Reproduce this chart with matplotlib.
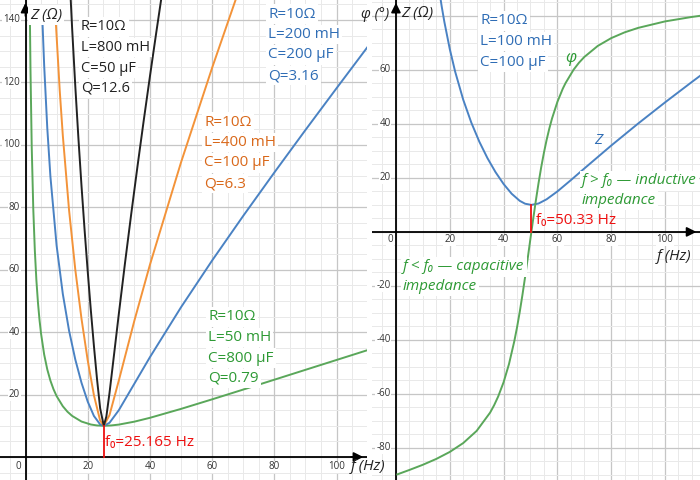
import numpy as np
import matplotlib.pyplot as plt

plt.rcParams['font.family'] = ['Open Sans', 'DejaVu Sans']

# ---- left panel: |Z| of four series RLC circuits, f0 = 25.165 Hz ----
f_green = [1.42, 1.6, 2, 2.5, 3, 3.5, 4, 4.5, 5, 6, 7, 8, 9, 10, 12, 13.5, 15,
           18, 21, 23, 25.165, 27.5, 30, 35, 40, 50, 60, 70, 80, 90, 100, 110]
z_green = [140.0, 124.2, 99.35, 79.42, 66.13, 56.63, 49.50, 43.94, 39.51, 32.83,
           28.06, 24.49, 21.72, 19.51, 16.25, 14.49, 13.16, 11.36, 10.41, 10.10,
           10.0, 10.10, 10.38, 11.32, 12.55, 15.41, 18.47, 21.60, 24.76, 27.92,
           31.08, 34.24]

f_blue = [5.45, 6, 7, 8, 10, 12, 14, 16, 18, 20, 22, 24, 25.165, 27, 30, 35,
          40, 50, 60, 70, 80, 90, 100, 110]
z_blue = [139.5, 125.5, 105.4, 89.98, 67.75, 52.21, 40.50, 31.27, 23.79, 17.75,
          13.14, 10.44, 10.0, 10.95, 14.99, 23.48, 31.97, 47.97, 62.94, 77.24,
          91.13, 104.74, 118.12, 131.38]

f_orange = [9.7, 11, 12, 14, 16, 18, 20, 22, 24, 25.165, 27, 30, 35, 40, 50, 60, 70]
z_orange = [140.05, 117.46, 102.96, 79.12, 60.10, 44.32, 30.97, 19.77, 11.66, 10.0,
            13.40, 24.49, 43.66, 61.56, 94.37, 124.67, 153.5]

f_black = [13, 14, 15, 16, 17, 18, 19, 20, 21, 22, 23, 24, 25.165, 26, 27, 28,
           30, 32, 34, 36, 38, 40, 42, 44, 46]
z_black = [179.8, 157.31, 137.17, 118.94, 102.28, 86.94, 72.72, 59.48, 47.09,
           35.55, 24.89, 15.61, 10.0, 12.97, 20.44, 28.85, 45.80, 62.19, 77.92,
           93.07, 107.71, 121.89, 135.69, 149.16, 162.33]

f0_left = 25.165
z_min = 10

# ---- right panel: Z and phase of R=10, L=100 mH, C=100 uF ----
f_z = [15.5, 16, 17, 18, 20, 22, 25, 28, 31, 34, 37, 40, 43, 46, 48, 50.33, 53,
       56, 60, 65, 70, 80, 90, 100, 110, 113]
z_right = [93.48, 89.98, 83.54, 77.76, 67.75, 59.37, 48.98, 40.50, 33.39, 27.34,
           22.15, 17.75, 14.14, 11.51, 10.44, 10.0, 10.52, 12.08, 14.99, 19.17,
           23.48, 31.98, 40.13, 47.97, 55.56, 57.79]

f_phi = [0.5, 5, 10, 15, 20, 25, 30, 35, 36.5, 38, 40, 42, 44, 45, 46, 47, 48,
         49, 50.33, 51, 52, 53, 54, 55, 56, 57, 58, 60, 62, 63, 66, 68, 70, 75,
         80, 85, 90, 100, 110, 113]
phi = [-89.82, -88.18, -86.26, -84.09, -81.51, -78.22, -73.70, -66.93, -64.18,
       -60.95, -55.70, -49.0, -40.43, -35.37, -29.68, -23.41, -16.70, -9.59, 0.0,
       4.74, 11.64, 18.11, 24.04, 29.34, 34.10, 38.28, 41.99, 48.16, 53.04,
       55.07, 60.06, 62.65, 64.79, 68.89, 71.78, 73.92, 75.57, 77.97, 79.63,
       80.04]

f0_right = 50.33

left_xticks = [20, 40, 60, 80, 100]
left_yticks = [20, 40, 60, 80, 100, 120, 140]
right_xticks = [20, 40, 60, 80, 100]
right_yticks = [-80, -60, -40, -20, 20, 40, 60]

BLUE, BLUE_T = '#4a82c3', '#2f6db5'
ORANGE, ORANGE_T = '#f39339', '#d9681a'
GREEN, GREEN_T = '#5aa75a', '#2e9a35'
BLACK = '#222222'
RED = '#ee1111'

W, H = 700, 480
fig = plt.figure(figsize=(7, 4.8), dpi=100)
ax1 = fig.add_axes([0, 0, 367 / W, 1])
ax2 = fig.add_axes([372 / W, 0, 328 / W, 1])


def setup(ax, xlim, ylim):
    ax.set_xticks(np.arange(-80, 200, 20))
    ax.set_yticks(np.arange(-100, 200, 20))
    ax.set_xticks(np.arange(-100, 200, 5), minor=True)
    ax.set_yticks(np.arange(-100, 200, 5), minor=True)
    ax.set_xlim(*xlim)
    ax.set_ylim(*ylim)
    ax.grid(which='major', color='#c6c6c6', lw=0.9)
    ax.grid(which='minor', color='#e9e9e9', lw=0.7)
    ax.set_axisbelow(True)
    ax.tick_params(which='both', length=0, labelbottom=False, labelleft=False)
    for s in ax.spines.values():
        s.set_visible(False)
    ax.axhline(0, color='black', lw=1.3, zorder=2)
    ax.axvline(0, color='black', lw=1.3, zorder=2)
    ax.annotate('', xy=(xlim[1] - 0.3, 0), xytext=(xlim[1] - 6, 0),
                arrowprops=dict(arrowstyle='-|>', color='black', lw=1.3,
                                mutation_scale=14), zorder=3)
    ax.annotate('', xy=(0, ylim[1]), xytext=(0, ylim[1] - 6),
                arrowprops=dict(arrowstyle='-|>', color='black', lw=1.3,
                                mutation_scale=14), zorder=3)


setup(ax1, (-8.2, 109.8), (-7.37, 146.4))
setup(ax2, (-8.9, 113.0), (-91.9, 85.9))

tick_kw = dict(fontsize=7, color='#333333', va='center',
               bbox=dict(fc='white', ec='none', pad=0.6), zorder=4)
for v in left_xticks:
    ax1.text(v, -3.2, str(v), ha='center', **tick_kw)
ax1.text(-2.4, -3.2, '0', ha='center', **tick_kw)
for v in left_yticks:
    ax1.text(-1.8, v, str(v), ha='right', **tick_kw)
for v in right_xticks:
    ax2.text(v, -3.0, str(v), ha='center', **tick_kw)
ax2.text(-2.2, -3.0, '0', ha='center', **tick_kw)
for v in right_yticks:
    ax2.text(-2.0, v, str(v), ha='right', **tick_kw)

# curves
ax1.plot(f_green, z_green, color=GREEN, lw=1.4, zorder=5)
ax1.plot(f_blue, z_blue, color=BLUE, lw=1.4, zorder=5)
ax1.plot(f_orange, z_orange, color=ORANGE, lw=1.4, zorder=5)
ax1.plot(f_black, z_black, color=BLACK, lw=1.4, zorder=5)
ax1.plot([f0_left, f0_left], [0, z_min], color=RED, lw=1.3, zorder=6)

ax2.plot(f_z, z_right, color=BLUE, lw=1.4, zorder=5)
ax2.plot(f_phi, phi, color=GREEN, lw=1.4, zorder=5)
ax2.plot([f0_right, f0_right], [0, z_min], color=RED, lw=1.3, zorder=6)


def block(px, py, lines, color, dy=20.5, size=11, style='normal', box=True):
    for i, s in enumerate(lines):
        kw = dict(bbox=dict(fc='white', ec='none', pad=1.5)) if box else {}
        fig.text(px / W, 1 - (py + i * dy) / H, s, color=color, fontsize=size,
                 ha='left', va='center', style=style, zorder=10, **kw)


block(81, 27, ['R=10Ω', 'L=800 mH', 'C=50 µF', 'Q=12.6'], BLACK, size=10.5)
block(268, 14, ['R=10Ω', 'L=200 mH', 'C=200 µF', 'Q=3.16'], BLUE_T)
block(204, 122, ['R=10Ω', 'L=400 mH', 'C=100 µF', 'Q=6.3'], ORANGE_T)
block(208, 317, ['R=10Ω', 'L=50 mH', 'C=800 µF', 'Q=0.79'], GREEN_T)
block(480, 21, ['R=10Ω', 'L=100 mH', 'C=100 µF'], BLUE_T)

block(105, 443, ['f₀=25.165 Hz'], RED, box=False)
block(536, 221, ['f₀=50.33 Hz'], RED, box=False)

block(582, 181, ['f > f₀ — inductive', 'impedance'], GREEN_T, dy=19,
      style='italic')
block(403, 267, ['f < f₀ — capacitive', 'impedance'], GREEN_T, dy=19,
      style='italic')

block(565, 58, ['φ'], GREEN_T, size=12, style='italic', box=False)
block(594, 141, ['Z'], BLUE_T, size=11, style='italic', box=False)

block(30, 15, ['Z (Ω)'], BLACK, size=11, style='italic')
block(361, 14, ['φ (°)'], BLACK, size=10.5, style='italic', box=False)
block(401, 14, ['Z (Ω)'], BLACK, size=11, style='italic', box=False)
block(351, 467, ['f (Hz)'], BLACK, size=11, style='italic', box=False)
block(657, 256, ['f (Hz)'], BLACK, size=11, style='italic', box=False)

fig.savefig('out.png', dpi=100, facecolor='white')
